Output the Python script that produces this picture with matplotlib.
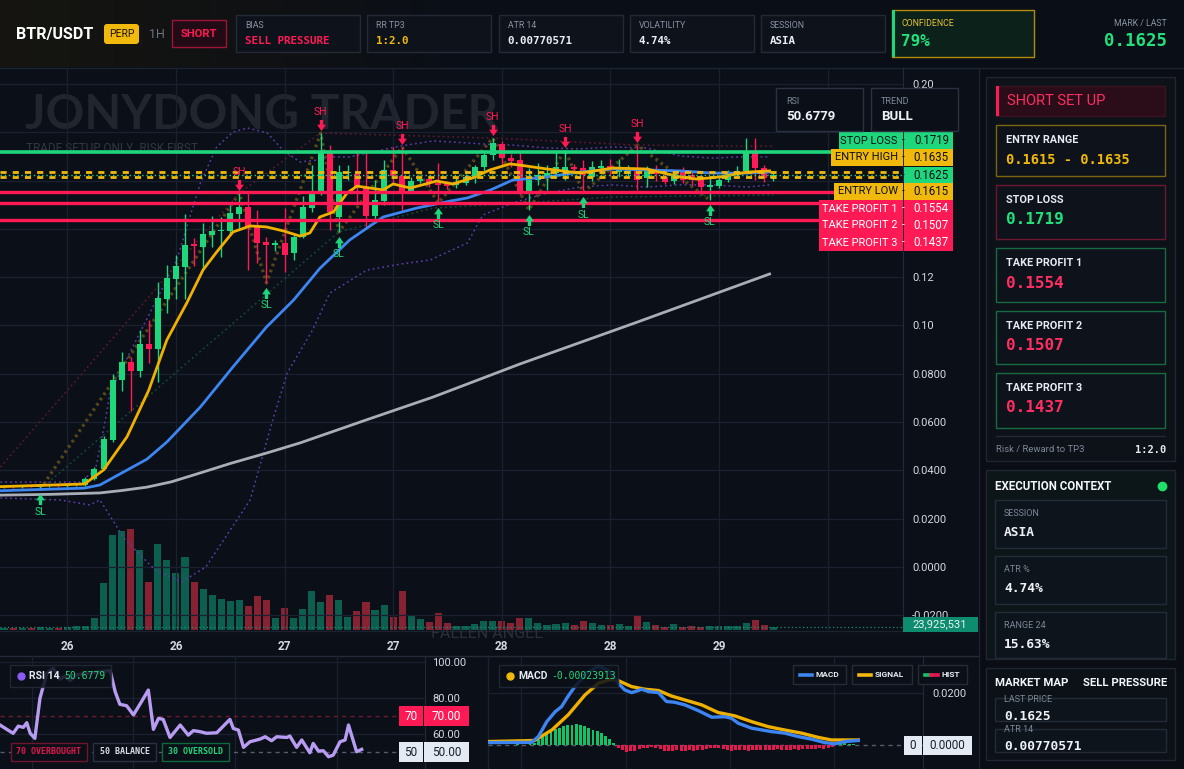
import numpy as np
import matplotlib
matplotlib.use('Agg')
import matplotlib.pyplot as plt
from matplotlib.patches import Rectangle, FancyBboxPatch
from matplotlib.transforms import offset_copy

W, H = 1184, 769
SANS = ['Roboto', 'DejaVu Sans']
MONO = ['DejaVu Sans Mono']
BG = '#0b0f17'
GREEN = '#1ed67c'
RED = '#ff1a55'
YELLOW = '#f0b90b'
GRID = '#1a2030'
TXT = '#d3d9e3'
GREY = '#7d8796'

# ---------------- data (1H candles) ----------------
opens = [.0330, .0333, .0331, .0334, .0332, .0335, .0336, .0334, .0337, .0338,
         .0364, .0405, .0527, .0772, .0848, .0811, .0923, .0902, .1110, .1192,
         .1242, .1337, .1325, .1374, .1391, .1391, .1461, .1490, .1408, .1345,
         .1333, .1341, .1300, .1366, .1486, .1553, .1722, .1449, .1630, .1627,
         .1569, .1453, .1515, .1644, .1619, .1553, .1598, .1606, .1590, .1584,
         .1582, .1590, .1615, .1656, .1706, .1752, .1693, .1685, .1557, .1602,
         .1619, .1631, .1640, .1656, .1652, .1615, .1652, .1660, .1635, .1627,
         .1652, .1610, .1644, .1615, .1598, .1640, .1623, .1606, .1575, .1577,
         .1602, .1627, .1640, .1722, .1652, .1610]
highs = [.0338, .0340, .0337, .0339, .0336, .0341, .0342, .0340, .0345, .0370,
         .0415, .0543, .0799, .0890, .0869, .0981, .1022, .1180, .1250, .1292,
         .1461, .1362, .1424, .1453, .1449, .1499, .1548, .1548, .1478, .1366,
         .1354, .1486, .1380, .1536, .1664, .1797, .1747, .1664, .1664, .1727,
         .1727, .1602, .1685, .1739, .1739, .1615, .1620, .1625, .1673, .1600,
         .1610, .1627, .1665, .1715, .1776, .1765, .1710, .1718, .1652, .1673,
         .1664, .1718, .1727, .1670, .1685, .1680, .1685, .1690, .1690, .1665,
         .1747, .1660, .1665, .1630, .1640, .1655, .1640, .1620, .1610, .1625,
         .1645, .1660, .1776, .1776, .1665, .1635]
lows = [.0325, .0328, .0326, .0329, .0320, .0330, .0331, .0330, .0333, .0333,
        .0358, .0400, .0518, .0729, .0647, .0786, .0846, .0767, .1051, .1111,
        .1109, .1246, .1230, .1325, .1283, .1380, .1395, .1230, .1260, .1176,
        .1310, .1222, .1270, .1360, .1470, .1540, .1395, .1387, .1602, .1507,
        .1408, .1424, .1499, .1590, .1478, .1548, .1590, .1575, .1507, .1565,
        .1570, .1580, .1590, .1640, .1685, .1664, .1655, .1540, .1478, .1582,
        .1561, .1610, .1602, .1630, .1550, .1600, .1640, .1620, .1615, .1610,
        .1561, .1575, .1600, .1585, .1585, .1590, .1580, .1555, .1519, .1570,
        .1595, .1615, .1630, .1602, .1595, .1600]
closes = [.0333, .0331, .0334, .0332, .0335, .0336, .0334, .0337, .0340, .0364,
          .0405, .0529, .0774, .0848, .0811, .0923, .0902, .1114, .1196, .1246,
          .1333, .1329, .1379, .1391, .1395, .1466, .1490, .1408, .1341, .1333,
          .1340, .1292, .1366, .1490, .1557, .1714, .1470, .1635, .1637, .1573,
          .1453, .1519, .1644, .1619, .1553, .1598, .1606, .1590, .1582, .1579,
          .1594, .1615, .1656, .1706, .1756, .1693, .1681, .1553, .1602, .1623,
          .1631, .1656, .1656, .1648, .1623, .1656, .1660, .1645, .1652, .1644,
          .1602, .1640, .1627, .1594, .1627, .1602, .1602, .1573, .1582, .1602,
          .1631, .1640, .1714, .1652, .1610, .1625]
volumes_m = [18, 14, 20, 16, 22, 14, 18, 24, 30, 32,
             96, 376, 760, 792, 808, 640, 384, 688, 560, 456,
             584, 384, 328, 280, 248, 232, 240, 192, 272, 240,
             96, 176, 96, 168, 312, 224, 280, 240, 104, 152,
             224, 160, 200, 104, 312, 120, 88, 64, 136, 56,
             32, 32, 48, 72, 72, 72, 56, 96, 96, 56,
             40, 48, 56, 40, 72, 56, 40, 40, 48, 32,
             112, 64, 40, 24, 48, 24, 32, 24, 32, 32,
             32, 32, 56, 80, 40, 24]

# moving averages (bar, price)
ema_fast_t = [-0.4, 8.9, 11, 13.6, 16, 18, 20.2, 22, 23.5, 25.3, 27.2, 29, 30.9, 32.7, 33.8, 34.9,
              36.4, 37.9, 39, 41.9, 43, 44.9, 47.8, 49.6, 51.8, 53.7, 55.9, 57, 60, 63.6, 67.3,
              71, 74.7, 76.6, 79.1, 82.1, 84.6]
ema_fast = [.0332, .0343, .0401, .0539, .0732, .0940, .1093, .1230, .1304, .1387, .1412, .1408, .1391,
            .1370, .1383, .1449, .1470, .1548, .1577, .1561, .1586, .1569, .1598, .1586, .1611, .1644,
            .1669, .1664, .1648, .1631, .1652, .1648, .1615, .1606, .1615, .1635, .1640]
ema_mid_t = [-0.4, 8.9, 10.6, 15.8, 18, 21.7, 25.3, 29, 32, 34.9, 38.2, 41.9, 45.6, 49.3, 51.2,
             53.7, 56.2, 60, 63.6, 67.3, 71, 74.7, 78.3, 82, 84.6]
ema_mid = [.0315, .0326, .0339, .0446, .0517, .0662, .0828, .0993, .1105, .1236, .1354, .1449, .1486,
           .1515, .1528, .1560, .1602, .1615, .1635, .1648, .1644, .1640, .1631, .1631, .1635]
ema_slow_t = [-0.4, 5, 10.6, 13, 15.8, 18.5, 21.7, 25, 29, 32.7, 40, 47.4, 57, 70, 84.6]
ema_slow = [.0297, .0300, .0306, .0316, .0330, .0352, .0389, .0428, .0471, .0513, .0608, .0703,
            .0840, .1014, .1213]

bb_up_t = [-0.4, 8.4, 10.1, 11.2, 11.7, 15.0, 19.1, 20.6, 21.7, 23.5, 25.3, 26.9, 29.1, 30.8, 32.7,
           34.6, 36.4, 38.2, 40.1, 43.8, 47.4, 51.2, 54.8, 56.2, 60, 63.6, 67.3, 71, 74.7, 78.3, 81.3, 84.6]
bb_up = [.0351, .0351, .0401, .0608, .0720, .0969, .1271, .1457, .1590, .1739, .1801, .1818, .1797,
         .1727, .1677, .1685, .1698, .1698, .1714, .1743, .1764, .1756, .1747, .1747, .1735, .1731,
         .1739, .1735, .1702, .1693, .1698, .1698]
bb_lo_t = [-0.4, 6.2, 9.5, 10.6, 13.4, 16.7, 19.6, 22.3, 27.2, 29.7, 31.3, 34.1, 36.0, 40.1, 43.8,
           47.1, 51.2, 52.9, 56.2, 60, 63.6, 67.3, 71, 74.7, 78.3, 82.1, 84.6]
bb_lo = [.0285, .0277, .0256, .0277, .0111, -.0013, -.0063, -.0001, .0277, .0608, .0803, .0981,
         .1134, .1229, .1254, .1271, .1341, .1457, .1507, .1548, .1573, .1582, .1573, .1582, .1582,
         .1573, .1582]

pivot_idx = [4, 26, 29, 35, 37, 44, 48, 54, 58, 62, 64, 70, 78]
pivot_kind = ['L', 'H', 'L', 'H', 'L', 'H', 'L', 'H', 'L', 'H', 'L', 'H', 'L']
res_t = [-0.4, 26, 35, 54, 70, 85]
res_p = [.0413, .1548, .1797, .1776, .1747, .1742]
sup_t = [4, 37, 47.4, 57, 67.3, 85]
sup_p = [.0320, .1387, .1486, .1507, .1532, .1540]

level_names = ['STOP LOSS', 'ENTRY HIGH', '', 'ENTRY LOW', 'TAKE PROFIT 1', 'TAKE PROFIT 2', 'TAKE PROFIT 3']
level_values = [0.1719, 0.1635, 0.1625, 0.1615, 0.1554, 0.1507, 0.1437]

date_ticks = [7, 19, 31, 43, 55, 67, 79, 91]
date_labels = ['26', '26', '27', '27', '28', '28', '29', '']
price_ticks = [-0.02, 0, 0.02, 0.04, 0.06, 0.08, 0.10, 0.12, 0.14, 0.16, 0.18, 0.20]
price_labels = ['-0.0200', '0.0000', '0.0200', '0.0400', '0.0600', '0.0800',
                '0.10', '0.12', '0.14', '0.16', '0.18', '0.20']

rsi_t = [0, 1.6, 3.1, 4.3, 5.5, 6.3, 7.1, 8.2, 9.4, 11.0, 12.5, 14.1, 15.3, 16.5, 18.0, 20.4, 23.5,
         25.9, 27.1, 28.2, 29.8, 31.4, 33.3, 34.9, 36.1, 37.3, 38.4, 40.0, 42.4, 44.3, 45.5, 47.1,
         48.6, 51.0, 54.1, 54.9, 56.1, 57.3, 58.8, 61.2, 62.4, 63.9, 65.1, 67.5, 68.2, 69.8, 71.0,
         72.9, 73.7, 74.9, 76.1, 77.3, 78.4, 80.0, 81.2, 82.0, 83.9, 85.1]
rsi = [65.0, 62.6, 60.4, 64.4, 63.7, 66.3, 60.4, 57.6, 79.8, 93.7, 96.5, 90.4, 92.2, 89.6, 92.8, 93.7,
       94.6, 95.2, 83.5, 76.5, 75.7, 70.6, 78.0, 84.4, 62.6, 68.7, 68.1, 58.1, 65.0, 59.4, 61.9, 61.3,
       60.4, 60.7, 68.1, 63.1, 62.2, 52.6, 55.7, 57.2, 58.5, 56.3, 58.5, 58.1, 58.9, 52.6, 56.7, 49.6,
       54.8, 50.6, 50.7, 47.4, 48.3, 55.7, 56.7, 65.0, 50.2, 51.5]

macd_t = [0.1, 10.4, 12.0, 14.0, 16.0, 17.5, 19.1, 20.7, 22.3, 23.9, 26.3, 28.7, 31.0, 32.6, 34.2,
          35.8, 36.6, 38.2, 40.6, 42.5, 44.5, 46.9, 50.1, 53.3, 56.4, 58.0, 59.6, 62.8, 67.5, 70.7,
          73.9, 77.1, 80.2, 82.6, 85.0, 88.2]
macd = [.0009, .0010, .0032, .0089, .0127, .0146, .0187, .0223, .0251, .0280, .0300, .0285, .0236,
        .0210, .0200, .0208, .0213, .0204, .0200, .0166, .0163, .0153, .0131, .0106, .0108, .0102,
        .0083, .0064, .0051, .0045, .0032, .0022, .0009, .0004, .0013, .0017]
signal_t = [0.1, 11.1, 15.2, 19.1, 23.1, 26.3, 29.4, 31.0, 34.2, 37.4, 40.6, 43.7, 46.9, 50.9, 54.8,
            58.8, 62.8, 66.7, 70.7, 74.7, 78.6, 81.8, 85.0, 88.2]
signal = [.0013, .0017, .0057, .0115, .0191, .0236, .0251, .0246, .0223, .0213, .0208, .0187, .0172,
          .0153, .0124, .0111, .0089, .0070, .0057, .0045, .0029, .0019, .0019, .0019]
hist = [.0001, .0001, .0001, -.0002, .0001, .0001, .0001, .0002, -.0002, .0001, .0003, .0008,
        .0020, .0032, .0047, .0057, .0062, .0066, .0073, .0075, .0078, .0080, .0078, .0073, .0066,
        .0059, .0053, .0045, .0034, .0022, .0006,
        -.0012, -.0020, -.0026, -.0025, -.0022, -.0014, -.0010, -.0012, -.0008, -.0011, -.0015,
        -.0022, -.0024, -.0023, -.0021, -.0024, -.0022, -.0020, -.0023, -.0021, -.0019, -.0017,
        -.0012, -.0010, -.0013, -.0016, -.0020, -.0022, -.0021, -.0019, -.0020, -.0022, -.0021,
        -.0018, -.0020, -.0019, -.0021, -.0018, -.0017, -.0020, -.0019, -.0018, -.0017, -.0019,
        -.0016, -.0015, -.0017, -.0014, -.0013, -.0015, -.0010, -.0006,
        .0003, .0006, .0007, .0005, .0002, .0001]


def rect(x0, y0, x1, y1):
    return [x0 / W, 1 - y1 / H, (x1 - x0) / W, (y1 - y0) / H]


fig = plt.figure(figsize=(W / 100, H / 100), dpi=100, facecolor=BG)

bg = fig.add_axes([0, 0, 1, 1], zorder=-5)
bg.set_xlim(0, W)
bg.set_ylim(H, 0)
bg.axis('off')
ui = fig.add_axes([0, 0, 1, 1], zorder=20)
ui.set_xlim(0, W)
ui.set_ylim(H, 0)
ui.axis('off')
ui.patch.set_alpha(0)


def box(a, x0, y0, x1, y1, fc, ec=None, lw=1, z=1, alpha=1):
    a.add_patch(Rectangle((x0, y0), x1 - x0, y1 - y0, facecolor=fc,
                          edgecolor=ec if ec else 'none', lw=lw, zorder=z, alpha=alpha))


def txt(a, x, y, s, size, color, weight='normal', family=SANS, ha='left', z=5, **kw):
    a.text(x, y, s, fontsize=size, color=color, fontweight=weight, family=family,
           ha=ha, va='center', zorder=z, **kw)


# ---------------- backgrounds ----------------
box(bg, 0, 0, W, H, BG, z=0)
t = np.clip(np.linspace(0, 1, 400) * 2.6, 0, 1)
left = np.array([0.085, 0.082, 0.063])
right = np.array([0.043, 0.058, 0.088])
img = (left[None, :] * (1 - t[:, None]) + right[None, :] * t[:, None])[None, :, :]
bg.imshow(img, extent=(0, W, 67, 0), aspect='auto', zorder=1)
box(bg, 978, 68, W, H, '#0a0d14', z=1)
bg.plot([0, W], [67.5, 67.5], color='#1c2330', lw=1, zorder=2)
bg.plot([978.5, 978.5], [68, H], color='#1c2330', lw=1, zorder=2)
bg.plot([0, 978], [631, 631], color='#1c2330', lw=1, zorder=2)
bg.plot([0, 978], [656, 656], color='#232a38', lw=1, zorder=2)
bg.plot([488, 488], [656, H], color='#1c2330', lw=1, zorder=2)

# watermark
bg.text(25, 115, 'JONYDONG TRADER', fontsize=34.5, color='#20252e', fontweight='bold',
        family=['Lato', 'DejaVu Sans'], va='center', zorder=2)
bg.text(26, 149, 'TRADE SETUP ONLY. RISK FIRST.', fontsize=8.5, color='#313742',
        family=SANS, va='center', zorder=2)
bg.text(487, 633, 'FALLEN ANGEL', fontsize=11.5, color='#2a303a', family=SANS,
        ha='center', va='center', zorder=2)

# ---------------- main price chart ----------------
vax = fig.add_axes(rect(0, 68, 903, 630), zorder=1)
ax = fig.add_axes(rect(0, 68, 903, 630), zorder=2)
for a in (vax, ax):
    a.set_facecolor('none')
    a.set_xlim(-0.44, 99.34)

n = len(opens)
xs = np.arange(n)
up = [closes[i] >= opens[i] for i in range(n)]

vax.bar(xs, volumes_m, width=0.78, color=['#0c5e4e' if u else '#872232' for u in up], lw=0)
vax.set_ylim(0, 4496)
vax.axis('off')

ax.set_ylim(-0.02618, 0.20663)
ax.yaxis.tick_right()
ax.set_yticks(price_ticks)
ax.set_yticklabels(price_labels, family=SANS)
ax.set_xticks(date_ticks)
ax.set_xticklabels(date_labels, family=SANS, fontweight='bold')
ax.tick_params(axis='y', length=0, pad=6.5, labelsize=8, labelcolor=TXT)
ax.tick_params(axis='x', length=0, pad=7, labelsize=8.5, labelcolor=TXT)
ax.grid(color=GRID, lw=0.9, zorder=0)
for s in ['top', 'left', 'bottom']:
    ax.spines[s].set_visible(False)
ax.spines['right'].set_color('#222a38')

ax.plot(bb_up_t, bb_up, color='#5a3ea6', lw=1.1, ls=(0, (1.2, 2)), zorder=2)
ax.plot(bb_lo_t, bb_lo, color='#5a3ea6', lw=1.1, ls=(0, (1.2, 2)), zorder=2)
ax.plot(res_t, res_p, color='#5c1a30', lw=1.1, ls=(0, (1.2, 2)), zorder=2)
ax.plot(sup_t, sup_p, color='#154a3a', lw=1.1, ls=(0, (1.2, 2)), zorder=2)

zz_p = [lows[i] if k == 'L' else highs[i] for i, k in zip(pivot_idx, pivot_kind)]
ax.plot(pivot_idx, zz_p, color='#54471c', lw=2.4, ls=(0, (0.8, 1.1)), zorder=3)

ax.plot(ema_slow_t, ema_slow, color='#a9adb5', lw=2, zorder=4)

for i in range(n):
    col = GREEN if up[i] else RED
    ax.vlines(i, lows[i], highs[i], color=col, lw=1, zorder=5)
    ax.bar(i, max(abs(closes[i] - opens[i]), 0.0004), bottom=min(opens[i], closes[i]),
           width=0.66, color=col, lw=0, zorder=5)

ax.plot(ema_mid_t, ema_mid, color='#3d85f0', lw=2, zorder=6)
ax.plot(ema_fast_t, ema_fast, color='#f0b000', lw=2, zorder=6)

# trade levels
ax.axhline(level_values[0], color=GREEN, lw=2.6, zorder=7)
ax.axhline(level_values[1], color=YELLOW, lw=2, ls=(0, (2.2, 2.2)), zorder=7)
ax.axhline(level_values[3], color=YELLOW, lw=2, ls=(0, (2.2, 2.2)), zorder=7)
ax.axhline(level_values[2], color=GREEN, lw=1, ls=(0, (1, 2)), zorder=7)
for v in level_values[4:]:
    ax.axhline(v, color=RED, lw=2.4, zorder=7)

# swing markers
arrow_dn = [(-0.3, 1), (0.3, 1), (0.3, 0.15), (0.8, 0.15), (0, -1), (-0.8, 0.15), (-0.3, 0.15), (-0.3, 1)]
arrow_up = [(x, -y) for x, y in arrow_dn]
tr_sh_a = offset_copy(ax.transData, fig=fig, y=6, units='points')
tr_sh_t = offset_copy(ax.transData, fig=fig, y=15, units='points')
tr_sl_a = offset_copy(ax.transData, fig=fig, y=-7, units='points')
tr_sl_t = offset_copy(ax.transData, fig=fig, y=-16, units='points')
for i, k in zip(pivot_idx, pivot_kind):
    if k == 'H':
        ax.plot(i, highs[i], marker=arrow_dn, ms=8, color=RED, mew=0, transform=tr_sh_a, zorder=8)
        ax.text(i, highs[i], 'SH', color=RED, fontsize=7.5, family=SANS, ha='center',
                va='center', transform=tr_sh_t, zorder=8)
    else:
        ax.plot(i, lows[i], marker=arrow_up, ms=8, color=GREEN, mew=0, transform=tr_sl_a, zorder=8)
        ax.text(i, lows[i], 'SL', color=GREEN, fontsize=7.5, family=SANS, ha='center',
                va='center', transform=tr_sl_t, zorder=8)

# volume level dotted line + label
vol_y = 630 - volumes_m[-1] / 8
ui.plot([0, 903], [vol_y, vol_y], color='#1b8f74', lw=0.9, ls=(0, (1, 2)), zorder=2)
box(ui, 903, 617, 978, 632, '#0e8c70', z=3)
txt(ui, 940, 624.5, '{:,}'.format(23925531), 8, '#e8f5f0', ha='center', family=SANS)

# level label stack
lab_top = [132, 149, 167, 183, 200, 217, 234]
lab_x0 = [839, 831, None, 834, 819, 819, 819]
lab_bg = [GREEN, YELLOW, GREEN, YELLOW, RED, RED, RED]
lab_fg = ['#0b0f17', '#0b0f17', '#0b0f17', '#0b0f17', '#ffffff', '#ffffff', '#ffffff']
for name, v, y0, x0, c, fc in zip(level_names, level_values, lab_top, lab_x0, lab_bg, lab_fg):
    if x0 is not None:
        box(ui, x0, y0, 903, y0 + 17, c, z=3)
        txt(ui, 898, y0 + 8.5, name, 8, fc, ha='right', z=6)
    box(ui, 904, y0, 953, y0 + 17, c, z=3)
    txt(ui, 949, y0 + 8.5, '{:.4f}'.format(v), 8.3, fc, ha='right', z=6)
    txt(ui, 903.5, y0 + 8.5, '-', 7, fc, ha='center', z=6)

# RSI / TREND info boxes
for x0, lab, val in [(776, 'RSI', '50.6779'), (871, 'TREND', 'BULL')]:
    box(ui, x0, 88, x0 + 87, 131, BG, '#2a3140', z=3)
    txt(ui, x0 + 10, 101, lab, 6.5, GREY)
    txt(ui, x0 + 10, 117, val, 9.5, '#eef2f7', weight='bold')

# ---------------- RSI panel ----------------
rax = fig.add_axes(rect(0, 656, 425, 769), zorder=2)
rax.set_facecolor('none')
rax.set_xlim(0, 100)
rax.set_ylim(40.6, 103.3)
rax.yaxis.tick_right()
rax.set_yticks([60, 80, 100])
rax.set_yticklabels(['60.00', '80.00', '100.00'], family=SANS)
rax.set_xticks([7.5, 31.3, 55.3, 79.3])
rax.set_xticklabels([])
rax.tick_params(length=0, labelsize=8, labelcolor=TXT, pad=5)
rax.grid(color=GRID, lw=0.9)
for s in ['top', 'left', 'bottom']:
    rax.spines[s].set_visible(False)
rax.spines['right'].set_color('#222a38')
rax.axhline(70, color='#6e1a33', lw=1, ls=(0, (3, 3)))
rax.axhline(50, color='#555c6a', lw=1, ls=(0, (3, 3)))
rax.plot(rsi_t, rsi, color='#b79cf2', lw=2.4, zorder=4)

box(ui, 10, 665, 111, 687, '#0b0f17', '#252c38', z=3, alpha=0.85)
ui.plot(21, 676, 'o', ms=5, color='#8b5cf6', zorder=6)
txt(ui, 29, 676, 'RSI 14', 7.5, '#e6ebf2', weight='bold')
txt(ui, 64, 676, '50.6779', 7, '#22d67a', family=MONO)
for x0, x1, lab, ec, fc in [(11, 87, '70 OVERBOUGHT', '#6e1530', '#e0174f'),
                            (93, 156, '50 BALANCE', '#2a3140', '#d8dee8'),
                            (162, 229, '30 OVERSOLD', '#0e6a3c', '#1ed67c')]:
    box(ui, x0, 743, x1, 761, '#0b0f17', ec, z=3)
    txt(ui, (x0 + x1) / 2, 752, lab, 6, fc, family=MONO, weight='bold', ha='center')
for yv, val, c, fc in [(716, 70, RED, '#ffffff'), (752, 50, '#e3eaf3', '#1a1f29')]:
    box(ui, 399, yv - 10, 423, yv + 10, c, z=3)
    box(ui, 424, yv - 10, 469, yv + 10, c, z=3)
    txt(ui, 411, yv, str(val), 8.5, fc, ha='center')
    txt(ui, 446.5, yv, '{:.2f}'.format(val), 8.5, fc, ha='center')

# ---------------- MACD panel ----------------
max_ = fig.add_axes(rect(488, 656, 923, 769), zorder=2)
max_.set_facecolor('none')
max_.set_xlim(0, 103.6)
max_.set_ylim(-0.0092, 0.0340)
max_.yaxis.tick_right()
max_.set_yticks([0.02])
max_.set_yticklabels(['0.0200'], family=SANS)
max_.set_xticks([7.9, 32.9, 57.6, 82.4])
max_.set_xticklabels([])
max_.tick_params(length=0, labelsize=8, labelcolor=TXT, pad=6.5)
max_.grid(color=GRID, lw=0.9)
for s in ['top', 'left', 'bottom']:
    max_.spines[s].set_visible(False)
max_.spines['right'].set_color('#222a38')
max_.axhline(0, color='#555c6a', lw=1, ls=(0, (3, 3)))
hx = np.arange(len(hist))
max_.bar(hx, hist, width=0.7, color=['#12c266' if h >= 0 else '#e8174f' for h in hist], lw=0, zorder=3)
max_.plot(signal_t, signal, color='#f0b000', lw=2.4, zorder=4)
max_.plot(macd_t, macd, color='#3d85f0', lw=2.4, zorder=5)

box(ui, 499, 665, 618, 687, '#0b0f17', '#252c38', z=3, alpha=0.85)
ui.plot(510, 676, 'o', ms=5, color=YELLOW, zorder=6)
txt(ui, 518, 676, 'MACD', 7.5, '#e6ebf2', weight='bold')
txt(ui, 551, 676, '-0.00023913', 7, '#22d67a', family=MONO)
for x0, x1, lab, c in [(793, 846, 'MACD', '#3d85f0'), (852, 912, 'SIGNAL', YELLOW), (918, 967, 'HIST', None)]:
    box(ui, x0, 665, x1, 684, '#0b0f17', '#252c38', z=3)
    if c:
        ui.plot([x0 + 7, x0 + 19], [674.5, 674.5], color=c, lw=2.6, zorder=6)
    else:
        ui.plot([x0 + 7, x0 + 13], [674.5, 674.5], color='#12c266', lw=2.6, zorder=6)
        ui.plot([x0 + 13, x0 + 20], [674.5, 674.5], color='#e8174f', lw=2.6, zorder=6)
    txt(ui, x0 + 23, 674.5, lab, 6, '#e6ebf2', weight='bold')
box(ui, 904, 736, 922, 755, '#e3eaf3', z=3)
box(ui, 923, 736, 972, 755, '#e3eaf3', z=3)
txt(ui, 913, 745.5, '0', 8.5, '#1a1f29', ha='center')
txt(ui, 947.5, 745.5, '0.0000', 8.5, '#1a1f29', ha='center')

# ---------------- header ----------------
txt(ui, 16, 34, 'BTR/USDT', 11.5, '#ffffff', weight='bold')
ui.add_patch(FancyBboxPatch((104, 24), 35, 20, boxstyle='round,pad=0,rounding_size=3',
                            facecolor='#f0b90b', edgecolor='none', zorder=3))
txt(ui, 121.5, 34, 'PERP', 7.5, '#1a1400', ha='center')
txt(ui, 149, 34, '1H', 9, '#6b7380')
box(ui, 172, 20, 226, 47, '#220b14', '#9c1538', z=3)
txt(ui, 199, 34, 'SHORT', 8, RED, weight='bold', ha='center')

hdr_labels = ['BIAS', 'RR TP3', 'ATR 14', 'VOLATILITY', 'SESSION']
hdr_values = ['SELL PRESSURE', '1:2.0', '0.00770571', '4.74%', 'ASIA']
hdr_colors = [RED, YELLOW, '#e8eef6', '#e8eef6', '#e8eef6']
for k, (lab, val, c) in enumerate(zip(hdr_labels, hdr_values, hdr_colors)):
    x0 = 236 + k * 131.3
    box(ui, x0, 15, x0 + 124, 52, '#0e131b', '#232a36', z=3)
    txt(ui, x0 + 9, 26, lab, 6.3, '#8791a1')
    txt(ui, x0 + 9, 41, val, 7.8, c, weight='bold', family=MONO)

box(ui, 892, 10, 1034, 57, '#0b2119', '#b5890e', z=3)
box(ui, 892, 10, 895, 57, '#1ed67c', z=4)
txt(ui, 901, 23, 'CONFIDENCE', 6.3, '#e9c13a')
txt(ui, 901, 41, '79%', 11.5, '#22e07c', weight='bold', family=MONO)
txt(ui, 1167, 23, 'MARK / LAST', 6.3, '#8791a1', ha='right')
txt(ui, 1167, 41, '0.1625', 12.5, '#22e07c', weight='bold', family=MONO, ha='right')

# ---------------- right panel: setup ----------------
box(ui, 986, 77, 1175, 461, '#0d1219', '#1f2631', z=2)
box(ui, 996, 86, 1165, 116, '#2a0d18', '#3a1422', z=3)
box(ui, 996, 86, 999, 116, RED, z=4)
txt(ui, 1007, 101, 'SHORT SET UP', 10.5, '#ff2e63')

card_labels = ['ENTRY RANGE', 'STOP LOSS', 'TAKE PROFIT 1', 'TAKE PROFIT 2', 'TAKE PROFIT 3']
card_values = ['0.1615 - 0.1635', '0.1719', '0.1554', '0.1507', '0.1437']
card_colors = [YELLOW, '#22e07c', '#ff2e63', '#ff2e63', '#ff2e63']
card_edges = ['#7d640f', '#6d1830', '#166b40', '#166b40', '#166b40']
card_tops = [125, 185, 248, 311, 373]
card_bots = [176, 239, 302, 364, 428]
for k in range(5):
    box(ui, 996, card_tops[k], 1165, card_bots[k], '#0e131b', card_edges[k], z=3)
    txt(ui, 1006, card_tops[k] + 15, card_labels[k], 7.8, '#e6ebf2', weight='bold')
    txt(ui, 1006, card_tops[k] + 35, card_values[k], 9.8 if k == 0 else 11.5,
        card_colors[k], weight='bold', family=MONO)
ui.plot([996, 1165], [436, 436], color='#232a36', lw=1, zorder=3)
txt(ui, 996, 450, 'Risk / Reward to TP3', 6.8, '#7d8796')
txt(ui, 1166, 450, '1:2.0', 7.5, '#e6ebf2', weight='bold', family=MONO, ha='right')

# ---------------- right panel: execution context ----------------
box(ui, 986, 470, 1175, 659, '#0c1518', '#1f2631', z=2)
txt(ui, 995, 486, 'EXECUTION CONTEXT', 8.3, '#f2f5f9', weight='bold')
ui.plot(1162, 486, 'o', ms=6, color='#1ee06a', zorder=6)
for lab, val, y0 in [('SESSION', 'ASIA', 500), ('ATR %', '4.74%', 556), ('RANGE 24', '15.63%', 612)]:
    y1 = min(y0 + 48, 658)
    box(ui, 995, y0, 1166, y1, '#0e141c', '#232b37', z=3)
    txt(ui, 1004, y0 + 13, lab, 6.5, '#7d8796')
    txt(ui, 1004, y0 + 32, val, 9.3, '#eef2f7', weight='bold', family=MONO)

box(ui, 986, 668, 1175, 760, '#0c1118', '#1f2631', z=2)
txt(ui, 995, 683, 'MARKET MAP', 8.2, '#f2f5f9', weight='bold')
txt(ui, 1167, 683, 'SELL PRESSURE', 8.2, '#f2f5f9', weight='bold', ha='right')
for lab, val, y0 in [('LAST PRICE', '0.1625', 698), ('ATR 14', '0.00770571', 729)]:
    box(ui, 995, y0, 1166, y0 + 23, '#0e141c', '#232b37', z=3)
    txt(ui, 1004, y0 + 1, lab, 6.5, '#7d8796')
    txt(ui, 1004, y0 + 18, val, 9.3, '#eef2f7', weight='bold', family=MONO)

fig.savefig('out.png', dpi=100, facecolor=BG)
